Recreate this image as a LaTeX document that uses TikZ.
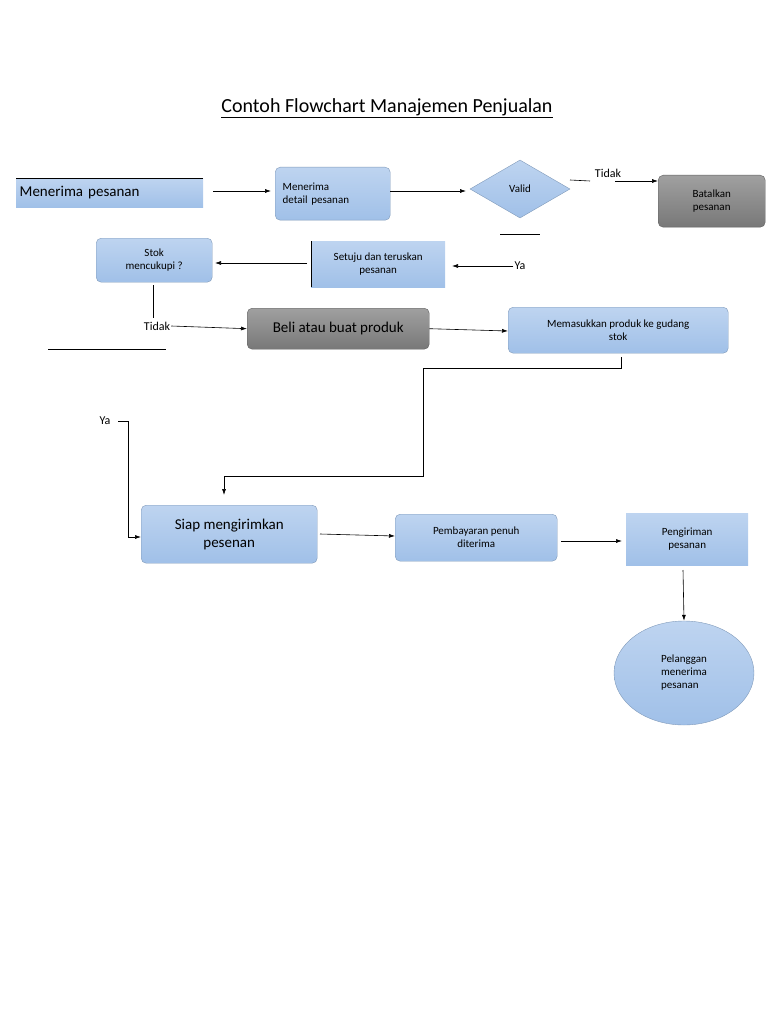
\documentclass[tikz,border=0pt]{standalone}
\usepackage{fontspec}
\setmainfont{Carlito}
\usetikzlibrary{shapes.geometric,arrows.meta}
\definecolor{bt}{RGB}{190,212,240}
\definecolor{bb}{RGB}{160,192,232}
\definecolor{gt}{RGB}{160,160,160}
\definecolor{gb}{RGB}{120,120,120}
\begin{document}
\begin{tikzpicture}[x=1pt,y=-1pt,
 blue/.style={top color=bt,bottom color=bb,draw=bb!80!black,line width=0.4pt,inner sep=2pt,align=center,font=\fontsize{11}{13}\selectfont},
 rbox/.style={blue,rounded corners=5pt},
 gbox/.style={rbox,top color=gt,bottom color=gb,draw=gb!80!black},
 arr/.style={-{Latex[length=6pt,width=4pt]},line width=0.6pt},
 ln/.style={line width=0.6pt},
 lbl/.style={font=\fontsize{12}{14}\selectfont,inner sep=1pt}]
\useasboundingbox (0,0) rectangle (768,1024);
\node[font=\fontsize{20}{24}\selectfont] (title) at (387,108) {\underline{Contoh Flowchart Manajemen Penjualan}};
\node[blue,draw=none,minimum width=187,minimum height=29,anchor=north west,align=left,text width=180,font=\fontsize{15}{18}\selectfont] (a) at (16,178) {Menerima pesanan};
\draw[ln] (a.north west) -- (a.north east);
\node[rbox,minimum width=115,minimum height=53,anchor=north west,align=left,text width=100] (b) at (275,167) {Menerima\\detail pesanan};
\node[blue,diamond,aspect=1.75,minimum width=100,minimum height=58,inner sep=0] (c) at (520,189) {Valid};
\node[gbox,minimum width=107,minimum height=52,anchor=north west] (d) at (658,175) {Batalkan\\pesanan};
\node[lbl] (t1) at (608,173) {Tidak};
\draw[ln] (570,180) -- (590,181);
\draw[arr] (615,181) -- (d.west |- 0,181);
\draw[arr] (213,191) -- (271,191);
\draw[arr] (b.east |- 0,191) -- (466,191);
\draw[ln] (500,234) -- (540,234);
\node[rbox,minimum width=116,minimum height=44,anchor=north west] (e) at (96,238) {Stok\\mencukupi ?};
\node[blue,draw=none,minimum width=134,minimum height=46,anchor=north west] (f) at (311,241) {Setuju dan teruskan\\pesanan};
\draw[ln] (f.north west) -- (f.south west);
\node[lbl] (ya1) at (520,266) {Ya};
\draw[arr] (ya1.west) -- (452,266);
\draw[arr] (307,263) -- (215,263);
\draw[ln] (153,285) -- (153,318);
\node[lbl] (t2) at (157,326) {Tidak};
\node[gbox,minimum width=182,minimum height=41,anchor=north west,font=\fontsize{15}{18}\selectfont] (g) at (247,308) {Beli atau buat produk};
\draw[arr] (t2.east) -- (g.west);
\draw[ln] (48,349) -- (166,349);
\node[rbox,minimum width=220,minimum height=46,anchor=north west] (h) at (508,307) {Memasukkan produk ke gudang\\stok};
\draw[arr] (g.east) -- (h.west |- 0,331);
\node[rbox,minimum width=176,minimum height=58,anchor=north west,font=\fontsize{15}{18}\selectfont] (i) at (141,505) {Siap mengirimkan\\pesenan};
\draw[arr] (621,357) -- (621,368) -- (423,368) -- (423,476) -- (224,476) -- (224,495);
\node[lbl] (ya2) at (105,421) {Ya};
\draw[arr] (118,421) -- (128,421) -- (128,537) -- (i.west |- 0,537);
\node[rbox,minimum width=162,minimum height=47,anchor=north west] (j) at (395,514) {Pembayaran penuh\\diterima};
\draw[arr] (320,534) -- (j.west |- 0,536);
\node[blue,draw=none,minimum width=122,minimum height=52,anchor=north west] (k) at (626,513) {Pengiriman\\pesanan};
\draw[arr] (561,541) -- (622,541);
\node[blue,ellipse,minimum width=140,minimum height=104,align=left] (l) at (684,673) {Pelanggan\\menerima\\pesanan};
\draw[arr] (683,570) -- (l.north);
\end{tikzpicture}
\end{document}
